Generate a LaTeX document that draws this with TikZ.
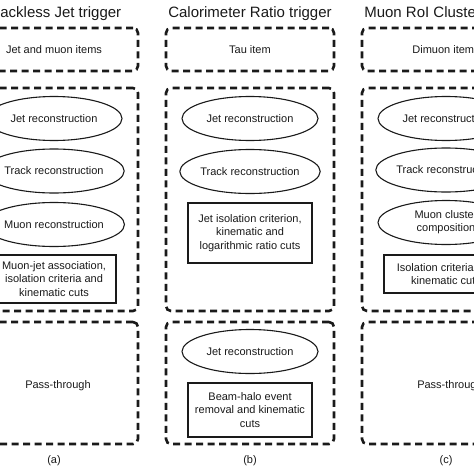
\documentclass[tikz,border=0pt]{standalone}
\usepackage{fontspec}
\setmainfont{Liberation Sans}
\usetikzlibrary{shapes.geometric}
\definecolor{ink}{HTML}{1A1A1A}
\begin{document}
\begin{tikzpicture}[x=1pt,y=-1pt,
  every node/.style={text=ink, font=\fontsize{11}{13.5}\selectfont, inner sep=0pt, align=center},
  group/.style={draw=ink, line width=2.6pt, dash pattern=on 7pt off 4.5pt, rounded corners=5pt, minimum width=168pt},
  oval/.style={draw=ink, line width=1.1pt, ellipse, minimum width=136pt, minimum height=44pt},
  stepbox/.style={draw=ink, line width=1.1pt, rectangle, minimum width=124pt},
  title/.style={font=\fontsize{15}{18}\selectfont, anchor=base},
  sub/.style={font=\fontsize{11}{13}\selectfont}
]
\useasboundingbox (0,0) rectangle (474,474);
\fill[white] (0,0) rectangle (474,474);
\clip (0,0) rectangle (474,474);

% titles
\node[title] (ta) at (54,17) {Trackless Jet trigger};
\node[title] (tb) at (250,17) {Calorimeter Ratio trigger};
\node[title] (tc) at (446,17) {Muon RoI Cluster trigger};

% column (a)
\node[group, minimum height=43pt] (a1) at (54,49.5) {Jet and muon items};
\node[group, minimum height=223pt] (a2) at (54,199.5) {};
\node[group, minimum height=122pt] (a3) at (54,383) {};
\node (a3t) at (58,386) {Pass-through};
\node[oval] (aj) at (54,118.5) {Jet reconstruction};
\node[oval] (at) at (54,171) {Track reconstruction};
\node[oval] (am) at (54,224.5) {Muon reconstruction};
\node[stepbox, minimum height=48pt] (ab) at (54,279) {Muon-jet association,\\isolation criteria and\\kinematic cuts};
\node[sub] (la) at (54,461) {(a)};

% column (b)
\node[group, minimum height=43pt] (b1) at (250,49.5) {Tau item};
\node[group, minimum height=223pt] (b2) at (250,199.5) {};
\node[group, minimum height=122pt] (b3) at (250,383) {};
\node[oval] (bj) at (250,118.5) {Jet reconstruction};
\node[oval] (bt) at (250,171.5) {Track reconstruction};
\node[stepbox, minimum height=60pt] (bb) at (250,233) {Jet isolation criterion,\\kinematic and\\logarithmic ratio cuts};
\node[oval] (bj2) at (250,351.5) {Jet reconstruction};
\node[stepbox, minimum height=54pt] (bb2) at (250,410) {Beam-halo event\\removal and kinematic\\cuts};
\node[sub] (lb) at (250,461) {(b)};

% column (c)
\node[group, minimum height=43pt] (c1) at (446,49.5) {Dimuon items};
\node[group, minimum height=223pt] (c2) at (446,199.5) {};
\node[group, minimum height=122pt] (c3) at (446,383) {};
\node (c3t) at (450,386) {Pass-through};
\node[oval] (cj) at (446,118.5) {Jet reconstruction};
\node[oval] (ct) at (446,170) {Track reconstruction};
\node[oval, font=\fontsize{11}{13}\selectfont] (cm) at (446,222.5) {Muon cluster\\composition};
\node[stepbox, minimum height=38pt] (cb) at (446,274) {Isolation criteria and\\kinematic cuts};
\node[sub] (lc) at (446,461) {(c)};
\end{tikzpicture}
\end{document}
